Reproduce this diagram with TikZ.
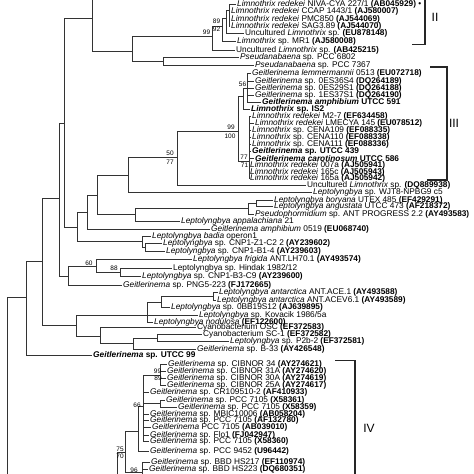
\documentclass[tikz,border=0pt]{standalone}
\usepackage{fontspec}
\setmainfont{Liberation Sans}
\newcommand{\acc}[1]{\textbf{(#1)}}
\tikzset{
	branch/.style={line width=0.6pt, black!80},
	taxon/.style={anchor=west, inner sep=1pt, font=\fontsize{8.3}{8.3}\selectfont},
	boot/.style={inner sep=0pt, font=\fontsize{6.5}{6.5}\selectfont},
	clade/.style={line width=1.1pt, black!85},
	cladename/.style={inner sep=0pt, font=\fontsize{12}{12}\selectfont}
}
\begin{document}
\begin{tikzpicture}[x=1pt,y=-1pt]
\useasboundingbox (0,0) rectangle (474,474);
\fill[white] (0,0) rectangle (474,474);
\clip (0,0) rectangle (474,474);
% Clade II and Pseudanabaena
\node[taxon] (niva) at (236,4) {\textit{Limnothrix redekei} NIVA-CYA 227/1 \acc{AB045929} \textbullet};
\node[taxon] (ccap) at (230,11.7) {\textit{Limnothrix redekei} CCAP 1443/1 \acc{AJ580007}};
\node[taxon] (pmc) at (230,19) {\textit{Limnothrix redekei} PMC850 \acc{AJ544069}};
\node[taxon] (sag) at (230,26) {\textit{Limnothrix redekei} SAG3.89 \acc{AJ544070}};
\node[taxon] (unca) at (244,33.7) {Uncultured \textit{Limnothrix} sp. \acc{EU878148}};
\node[taxon] (mr1) at (236,41.7) {\textit{Limnothrix} sp. MR1 \acc{AJ580008}};
\node[taxon] (uncb) at (235,50) {Uncultured \textit{Limnothrix} sp. \acc{AB425215}};
\node[taxon] (psea) at (239,57.7) {\textit{Pseudanabaena} sp. PCC 6802};
\node[taxon] (pseb) at (254,65.7) {\textit{Pseudanabaena} sp. PCC 7367};
% Clade III
\node[taxon] (lemm) at (251,73.3) {\textit{Geitlerinema lemmermannii} 0513 \acc{EU072718}};
\node[taxon] (oes36) at (254,81) {\textit{Geitlerinema} sp. 0ES36S4 \acc{DQ264189}};
\node[taxon] (oes29) at (254,88.3) {\textit{Geitlerinema} sp. 0ES29S1 \acc{DQ264188}};
\node[taxon] (oes37) at (254,95.7) {\textit{Geitlerinema} sp. 1ES37S1 \acc{DQ264190}};
\node[taxon] (utcc591) at (261,102.7) {\textbf{\textit{Geitlerinema amphibium} UTCC 591}};
\node[taxon] (is2) at (250,109) {\textbf{\textit{Limnothrix} sp. IS2}};
\node[taxon] (m27) at (251,116.3) {\textit{Limnothrix redekei} M2-7 \acc{EF634458}};
\node[taxon] (lmecya) at (254,123.3) {\textit{Limnothrix redekei} LMECYA 145 \acc{EU078512}};
\node[taxon] (cena109) at (251,130) {\textit{Limnothrix} sp. CENA109 \acc{EF088335}};
\node[taxon] (cena110) at (251,137) {\textit{Limnothrix} sp. CENA110 \acc{EF088338}};
\node[taxon] (cena111) at (251,144.3) {\textit{Limnothrix} sp. CENA111 \acc{EF088336}};
\node[taxon] (utcc439) at (251,151.5) {\textbf{\textit{Geitlerinema} sp. UTCC 439}};
\node[taxon] (utcc586) at (254,158.3) {\textbf{\textit{Geitlerinema carotinosum} UTCC 586}};
\node[taxon] (r007a) at (249,165) {\textit{Limnothrix redekei} 007a \acc{AJ505941}};
\node[taxon] (r165c) at (249,172) {\textit{Limnothrix redekei} 165c \acc{AJ505943}};
\node[taxon] (r165a) at (249,178.5) {\textit{Limnothrix redekei} 165a \acc{AJ505942}};
% Leptolyngbya and allies
\node[taxon] (uncc) at (306,185.3) {Uncultured \textit{Limnothrix} sp. \acc{DQ889938}};
\node[taxon] (wjt8) at (312,192.7) {\textit{Leptolyngbya} sp. WJT8-NPBG9 c5};
\node[taxon] (bory) at (273,200) {\textit{Leptolyngbya boryana} UTEX 485 \acc{EF429291}};
\node[taxon] (angu) at (273,206.7) {\textit{Leptolyngbya angustata} UTCC 473 \acc{AF218372}};
\node[taxon] (pseudo) at (254,214) {\textit{Pseudophormidium} sp. ANT PROGRESS 2.2 \acc{AY493583}};
\node[taxon] (appa) at (180,221) {\textit{Leptolyngbya appalachiana} 21};
\node[taxon] (amph) at (210,229) {\textit{Geitlerinema amphibium} 0519 \acc{EU068740}};
\node[taxon] (badia) at (151,236) {\textit{Leptolyngbya badia} operon1};
\node[taxon] (zonec) at (162,243.3) {\textit{Leptolyngbya} sp. CNP1-Z1-C2 2 \acc{AY239602}};
\node[taxon] (bone) at (165,251) {\textit{Leptolyngbya} sp. CNP1-B1-4 \acc{AY239603}};
\node[taxon] (frig) at (192,259.3) {\textit{Leptolyngbya frigida} ANT.LH70.1 \acc{AY493574}};
\node[taxon] (hind) at (172,268.3) {Leptolyngbya sp. Hindak 1982/12};
\node[taxon] (bthree) at (141,276.7) {\textit{Leptolyngbya} sp. CNP1-B3-C9 \acc{AY239600}};
\node[taxon] (png5) at (122,285.7) {\textit{Geitlerinema} sp. PNG5-223 \acc{FJ172665}};
\node[taxon] (ace1) at (218,292.7) {\textit{Leptolyngbya antarctica} ANT.ACE.1 \acc{AY493588}};
\node[taxon] (acev6) at (216,300) {\textit{Leptolyngbya antarctica} ANT.ACEV6.1 \acc{AY493589}};
\node[taxon] (bb19) at (170,307.3) {\textit{Leptolyngbya} sp. 0BB19S12 \acc{AJ639895}};
\node[taxon] (kova) at (198,315) {\textit{Leptolyngbya} sp. Kovacik 1986/5a};
\node[taxon] (nodu) at (153,322.7) {\textit{Leptolyngbya nodulosa} \acc{EF122600}};
\node[taxon] (osc) at (196,327.7) {Cyanobacterium OSC \acc{EF372583}};
\node[taxon] (scone) at (202,334.3) {Cyanobacterium SC-1 \acc{EF372582}};
\node[taxon] (ptwob) at (229,341.7) {\textit{Leptolyngbya} sp. P2b-2 \acc{EF372581}};
\node[taxon] (bthirty) at (196,349.3) {\textit{Geitlerinema} sp. B-33 \acc{AY426548}};
\node[taxon] (utcc99) at (92,355.7) {\textbf{\textit{Geitlerinema} sp. UTCC 99}};
% Clade IV
\node[taxon] (cib34) at (167,364.3) {\textit{Geitlerinema} sp. CIBNOR 34 \acc{AY274621}};
\node[taxon] (cib31) at (166,371.7) {\textit{Geitlerinema} sp. CIBNOR 31A \acc{AY274620}};
\node[taxon] (cib30) at (166,378.3) {\textit{Geitlerinema} sp. CIBNOR 30A \acc{AY274619}};
\node[taxon] (cib25) at (166,385.7) {\textit{Geitlerinema} sp. CIBNOR 25A \acc{AY274617}};
\node[taxon] (cr109) at (149,392.3) {\textit{Geitlerinema} sp. CR109510-2 \acc{AF410933}};
\node[taxon] (xa) at (165,400) {\textit{Geitlerinema} sp. PCC 7105 \acc{X58361}};
\node[taxon] (xb) at (177,407.3) {\textit{Geitlerinema} sp. PCC 7105 \acc{X58359}};
\node[taxon] (mbic) at (149,414) {\textit{Geitlerinema} sp. MBIC10006 \acc{AB058204}};
\node[taxon] (afc) at (149,420.7) {\textit{Geitlerinema} sp. PCC 7105 \acc{AF132780}};
\node[taxon] (abd) at (151,427.3) {\textit{Geitlerinema} PCC 7105 \acc{AB039010}};
\node[taxon] (flo1) at (149,435) {\textit{Geitlerinema} sp. Flo1 \acc{FJ042947}};
\node[taxon] (xc) at (149,441.7) {\textit{Geitlerinema} sp. PCC 7105 \acc{X58360}};
\node[taxon] (pcc9452) at (149,451) {\textit{Geitlerinema} sp. PCC 9452 \acc{U96442}};
\node[taxon] (hs217) at (150,462.3) {\textit{Geitlerinema} sp. BBD HS217 \acc{EF110974}};
\node[taxon] (hs223) at (148,469) {\textit{Geitlerinema} sp. BBD HS223 \acc{DQ680351}};
% internal nodes
\coordinate (n229) at (229,10);
\coordinate (n226) at (226,18);
\coordinate (n222) at (222,26);
\coordinate (n212) at (212,36);
\coordinate (n163) at (163,61.7);
\coordinate (n132) at (132,51);
\coordinate (n92) at (92,18);
\coordinate (topI) at (92,0);
\coordinate (n247) at (247.5,88);
\coordinate (nB) at (243,96);
\coordinate (nC) at (249,161);
\coordinate (nA) at (238,131.7);
\coordinate (n177) at (177,157);
\coordinate (n256) at (256,203.3);
\coordinate (n248) at (248,208.5);
\coordinate (n135) at (135,214.7);
\coordinate (n128) at (128,175);
\coordinate (n97) at (97,195);
\coordinate (n87) at (87,212);
\coordinate (n145) at (145,247.2);
\coordinate (n142) at (142,241.6);
\coordinate (n77) at (77,227);
\coordinate (n64) at (64,123);
\coordinate (n120) at (120,272.5);
\coordinate (n96) at (96,266.7);
\coordinate (n68) at (68,276);
\coordinate (n59) at (59,198);
\coordinate (n213) at (213,296.3);
\coordinate (n161) at (161,302);
\coordinate (n147) at (147,315);
\coordinate (n157) at (157,338);
\coordinate (n133) at (133,343);
\coordinate (n100) at (100,336.7);
\coordinate (n76) at (76,325);
\coordinate (n42) at (42,261.7);
\coordinate (n26) at (26,297);
\coordinate (root) at (7,297);
\coordinate (rootend) at (7,480);
\coordinate (nK) at (160,375);
\coordinate (nL) at (160,403.7);
\coordinate (nJ) at (143,406.7);
\coordinate (nG) at (138,431.7);
\coordinate (nH) at (142,472);
\coordinate (nHend) at (142,480);
\coordinate (nF) at (125,452);
\coordinate (n117) at (117,452);
\coordinate (n117end) at (117,480);
% branches
\draw[branch] (n229) |- (niva.west) (n229) |- (ccap.west) (n229) |- (pmc.west) (n229) |- (sag.west);
\draw[branch] (n226) |- (n229) (n226) |- (unca.west);
\draw[branch] (n222) |- (n226) (n222) |- (mr1.west);
\draw[branch] (n212) |- (n222) (n212) |- (uncb.west);
\draw[branch] (n163) |- (psea.west) (n163) |- (pseb.west);
\draw[branch] (n132) |- (n212) (n132) |- (n163);
\draw[branch] (n92) |- (n132) (n92) -- (topI);
\draw[branch] (n64) |- (n92) (n64) |- (n77);
\foreach \t in {lemm,oes36,oes29,oes37,utcc591}
	\draw[branch] (n247) |- (\t.west);
\draw[branch] (nB) |- (n247) (nB) |- (is2.west);
\foreach \t in {m27,lmecya,cena109,cena110,cena111,utcc439,utcc586,r007a,r165c,r165a}
	\draw[branch] (nC) |- (\t.west);
\draw[branch] (nA) |- (nB) (nA) |- (nC);
\draw[branch] (n177) |- (nA) (n177) |- (uncc.west);
\draw[branch] (n128) |- (n177) (n128) |- (wjt8.west);
\draw[branch] (n256) |- (bory.west) (n256) |- (angu.west);
\draw[branch] (n248) |- (n256) (n248) |- (pseudo.west);
\draw[branch] (n135) |- (n248) (n135) |- (appa.west);
\draw[branch] (n97) |- (n128) (n97) |- (n135);
\draw[branch] (n87) |- (n97) (n87) |- (amph.west);
\draw[branch] (n145) |- (zonec.west) (n145) |- (bone.west);
\draw[branch] (n142) |- (badia.west) (n142) |- (n145);
\draw[branch] (n77) |- (n87) (n77) |- (n142);
\draw[branch] (n120) |- (hind.west) (n120) |- (bthree.west);
\draw[branch] (n96) |- (frig.west) (n96) |- (n120);
\draw[branch] (n68) |- (n96) (n68) |- (png5.west);
\draw[branch] (n59) |- (n64) (n59) |- (n68);
\draw[branch] (n213) |- (ace1.west) (n213) |- (acev6.west);
\draw[branch] (n161) |- (n213) (n161) |- (bb19.west);
\draw[branch] (n147) |- (n161) (n147) |- (kova.west) (n147) |- (nodu.west);
\draw[branch] (n157) |- (scone.west) (n157) |- (ptwob.west);
\draw[branch] (n133) |- (n157) (n133) |- (bthirty.west);
\draw[branch] (n100) |- (osc.west) (n100) |- (n133);
\draw[branch] (n76) |- (n147) (n76) |- (n100);
\draw[branch] (n42) |- (n59) (n42) |- (n76);
\draw[branch] (n26) |- (n42) (n26) |- (utcc99.west);
\draw[branch] (root) -- (n26) (root) -- (rootend);
\foreach \t in {cib34,cib31,cib30,cib25}
	\draw[branch] (nK) |- (\t.west);
\draw[branch] (nL) |- (xa.west) (nL) |- (xb.west);
\draw[branch] (nJ) |- (nK) (nJ) |- (nL);
\foreach \t in {cr109,mbic,afc,abd,flo1,xc}
	\draw[branch] (nJ) |- (\t.west);
\draw[branch] (nG) |- (nJ) (nG) |- (pcc9452.west);
\draw[branch] (nH) |- (hs217.west) (nH) |- (hs223.west) (nH) -- (nHend);
\draw[branch] (nF) |- (nG) (nF) |- (nH);
\draw[branch] (n117) -- (nF) (n117) -- (n117end);
% bootstrap values
\node[boot] (bsa) at (206.5,32) {99};
\node[boot] (bsb) at (216.5,21) {89};
\node[boot] (bsc) at (216.5,29.5) {92};
\node[boot] (bsd) at (242.5,84.5) {56};
\node[boot] (bse) at (231,127.5) {99};
\node[boot] (bsf) at (230,136.5) {100};
\node[boot] (bsg) at (170,153) {50};
\node[boot] (bsh) at (170,162.5) {77};
\node[boot] (bsi) at (244,157) {77};
\node[boot] (bsj) at (244.5,165.5) {71};
\node[boot] (bsk) at (89,263.5) {60};
\node[boot] (bsl) at (114,268.5) {88};
\node[boot] (bsm) at (157.5,371.5) {99};
\node[boot] (bsn) at (158,378.3) {89};
\node[boot] (bso) at (137,405) {66};
\node[boot] (bsp) at (120,449) {75};
\node[boot] (bsq) at (120,456) {70};
\node[boot] (bsr) at (134,470.5) {96};
% clade brackets
\draw[clade] (412,-3) -- (425,-3) -- (425,44.3) -- (412,44.3);
\draw[clade] (430,67) -- (447,67) -- (447,180) -- (427,180);
\draw[clade] (335,360.5) -- (355,360.5) -- (355,480);
\node[cladename] (cII) at (435,17) {II};
\node[cladename] (cIII) at (454,123) {III};
\node[cladename] (cIV) at (369,428) {IV};
\end{tikzpicture}
\end{document}
